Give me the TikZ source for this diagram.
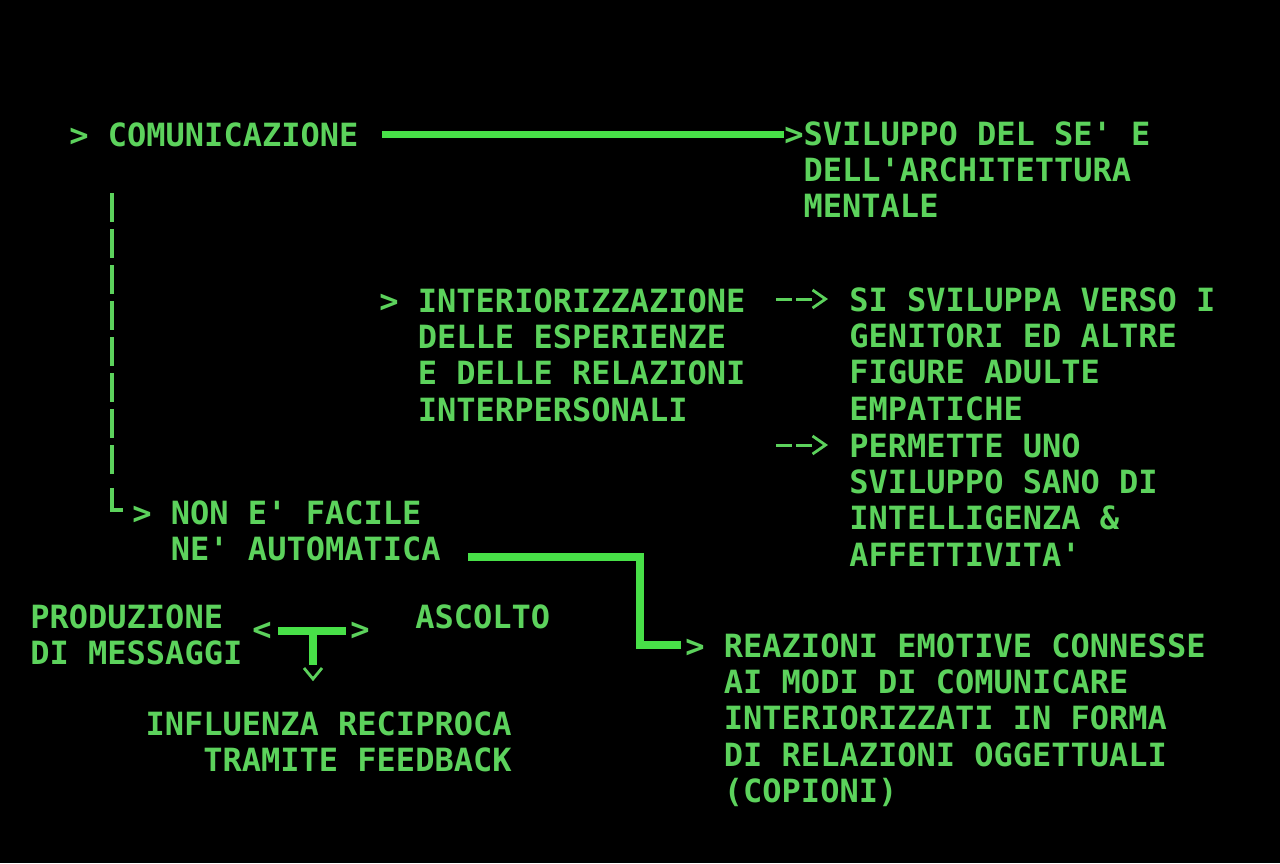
\documentclass[tikz,border=0pt]{standalone}
\usepackage{fontspec}
\setmonofont{DejaVu Sans Mono}
\usetikzlibrary{arrows.meta}

\begin{document}
\begin{tikzpicture}[x=0.5pt, y=-0.5pt,
    font=\ttfamily\bfseries\fontsize{16pt}{18.2pt}\selectfont,
    term/.style={text=termtext, inner sep=0pt, anchor=north west, align=left},
    bar/.style={draw=termline, line width=3.6pt},
    glyph/.style={draw=termtext, line width=1.4pt},
    dasharrow/.style={draw=termtext, line width=1.5pt,
        dash pattern=on 8pt off 2pt on 8pt off 40pt,
        -{Straight Barb[length=6.5pt, width=9pt, line width=1.4pt]}},
    pipe/.style={draw=termtext, line width=2.4pt,
        dash pattern=on 14.5pt off 3.5pt on 14.5pt off 3.5pt on 14.5pt off 3.5pt
        on 14.5pt off 3.5pt on 14.5pt off 3.5pt on 14.5pt off 3.5pt
        on 14.5pt off 3.5pt on 14.5pt off 7pt on 16.5pt off 20pt}]
    % Define colors
    \definecolor{termtext}{RGB}{92,210,92}
    \definecolor{termline}{RGB}{72,224,72}

    % Screen
    \fill[black] (0,0) rectangle (1280,863);

    % Top line
    \node[term] (comu) at (69,122) {> COMUNICAZIONE};
    \node[term] (svil) at (784,121) {>SVILUPPO DEL SE' E\\\phantom{>}DELL'ARCHITETTURA\\\phantom{>}MENTALE};
    \draw[bar, shorten <=11.5pt] (comu.east) -- (comu.east -| svil.west);

    % Interiorizzazione
    \node[term] (inter) at (379,288) {> INTERIORIZZAZIONE\\\phantom{>>}DELLE ESPERIENZE\\\phantom{>>}E DELLE RELAZIONI\\\phantom{>>}INTERPERSONALI};
    \node[term] (verso) at (849,287) {SI SVILUPPA VERSO I\\GENITORI ED ALTRE\\FIGURE ADULTE\\EMPATICHE};
    \node[term] (sano) at (849,433) {PERMETTE UNO\\SVILUPPO SANO DI\\INTELLIGENZA \&\\AFFETTIVITA'};
    \coordinate (dashA) at (776,299);
    \coordinate (dashB) at (776,445);
    \draw[dasharrow, shorten >=10.5pt] (dashA) -- (dashA -| verso.west);
    \draw[dasharrow, shorten >=10.5pt] (dashB) -- (dashB -| sano.west);

    % Non e' facile
    \node[term] (facile) at (132,500) {> NON E' FACILE\\\phantom{>>}NE' AUTOMATICA};
    \coordinate (pipetop) at (112,193);
    \coordinate (lcorner) at (112,510);
    \draw[pipe, shorten >=4.5pt] (pipetop) -- (lcorner) -- (lcorner -| facile.west);

    % Reazioni
    \node[term] (reaz) at (685,633) {> REAZIONI EMOTIVE CONNESSE\\\phantom{>>}AI MODI DI COMUNICARE\\\phantom{>>}INTERIORIZZATI IN FORMA\\\phantom{>>}DI RELAZIONI OGGETTUALI\\\phantom{>>}(COPIONI)};
    \coordinate (autoend) at (468,557);
    \coordinate (bend) at (640,645);
    \draw[bar, shorten >=2pt] (autoend) -| (bend) -- (bend -| reaz.west);

    % Produzione / ascolto
    \node[term] (prod) at (30,604) {PRODUZIONE\\DI MESSAGGI};
    \node[term] (ascolto) at (415,604) {ASCOLTO};
    \node[text=termtext, inner sep=0pt] (ltip) at (262,631) {<};
    \node[text=termtext, inner sep=0pt] (rtip) at (360,631) {>};
    \draw[bar, shorten <=3pt, shorten >=2pt] (ltip.east) -- (rtip.west);
    \coordinate (stemtop) at (313,631);
    \coordinate (vtip) at (313,679);
    \draw[bar] (stemtop) -- ([yshift=7pt]vtip);
    \draw[glyph] ([shift={(-9,-11)}]vtip) -- (vtip) -- ([shift={(9,-11)}]vtip);

    % Influenza
    \node[term, anchor=north east, align=right] (influ) at (512,711) {INFLUENZA RECIPROCA\\TRAMITE FEEDBACK};

\end{tikzpicture}
\end{document}
